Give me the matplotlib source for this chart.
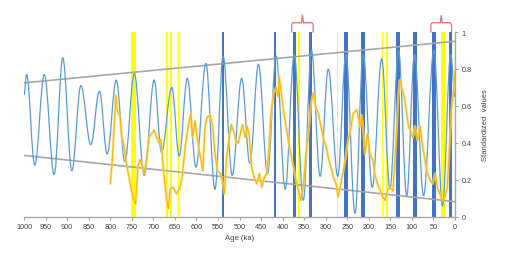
import matplotlib
matplotlib.use("Agg")
import matplotlib.pyplot as plt
from matplotlib.path import Path
from matplotlib.patches import PathPatch
import matplotlib.transforms as mtransforms

plt.rcParams['font.family'] = ['Liberation Sans', 'DejaVu Sans']

# blue curve: extrema (age ka, value)
blue_age = [1000, 994, 975, 953, 930, 910, 889, 868, 845, 825, 807, 786, 766, 744, 721,
            698, 681, 657, 640, 621, 601, 578, 557, 538, 517, 495, 476, 456, 435, 415,
            394, 373, 352, 333, 313, 294, 272, 253, 232, 213, 192, 170, 151, 131, 112,
            94, 73, 49, 29, 10, 0]
blue_val = [0.66, 0.77, 0.28, 0.77, 0.23, 0.86, 0.25, 0.71, 0.39, 0.68, 0.34, 0.74, 0.30, 0.775, 0.225,
            0.74, 0.35, 0.70, 0.33, 0.75, 0.27, 0.83, 0.15, 0.87, 0.225, 0.75, 0.29, 0.825, 0.235, 0.87,
            0.15, 0.88, 0.09, 0.90, 0.22, 0.80, 0.22, 0.88, 0.02, 0.88, 0.16, 0.855, 0.15, 0.90, 0.115,
            0.88, 0.115, 0.90, 0.06, 0.88, 0.65]

# orange proxy record
orange_age = [800, 795, 787, 783, 777, 773, 769, 764, 758, 752, 746, 741, 736, 731, 726, 721,
              715, 710, 704, 698, 692, 687, 682, 677, 673, 669, 665, 661, 654, 646, 638, 633,
              626, 619, 613, 609, 603, 598, 592, 585, 580, 575, 568, 562, 557, 551, 545, 540,
              535, 530, 524, 519, 514, 509, 503, 498, 493, 487, 482, 477, 472, 466, 460, 454,
              448, 443, 437, 432, 427, 421, 415, 411, 408, 404, 398, 393, 387, 381, 375, 370,
              364, 358, 352, 347, 341, 334, 329, 323, 317, 311, 306, 299, 294, 288, 282, 276,
              271, 265, 259, 254, 248, 241, 236, 228, 220, 216, 213, 209, 203, 197, 191, 186,
              180, 174, 168, 162, 157, 151, 144, 137, 131, 128, 124, 120, 116, 112, 108, 104,
              98, 93, 87, 81, 75, 70, 64, 58, 52, 46, 41, 35, 29, 23, 18, 13, 8, 2, 0]
orange_val = [0.18, 0.31, 0.66, 0.57, 0.54, 0.43, 0.40, 0.31, 0.235, 0.16, 0.10, 0.07, 0.27, 0.31, 0.28, 0.235,
              0.32, 0.43, 0.45, 0.47, 0.43, 0.40, 0.42, 0.27, 0.18, 0.09, 0.045, 0.15, 0.16, 0.125, 0.16, 0.215,
              0.38, 0.49, 0.56, 0.43, 0.52, 0.42, 0.34, 0.25, 0.49, 0.54, 0.55, 0.49, 0.34, 0.25, 0.235, 0.20,
              0.125, 0.31, 0.43, 0.50, 0.47, 0.415, 0.40, 0.45, 0.50, 0.43, 0.49, 0.43, 0.27, 0.215, 0.18, 0.235,
              0.16, 0.21, 0.235, 0.36, 0.56, 0.67, 0.70, 0.65, 0.76, 0.685, 0.58, 0.50, 0.415, 0.34, 0.27, 0.215,
              0.145, 0.09, 0.16, 0.31, 0.43, 0.61, 0.67, 0.59, 0.56, 0.49, 0.43, 0.38, 0.32, 0.27, 0.215, 0.18,
              0.11, 0.18, 0.25, 0.32, 0.415, 0.49, 0.56, 0.58, 0.49, 0.55, 0.47, 0.34, 0.45, 0.34, 0.31, 0.235,
              0.18, 0.145, 0.11, 0.09, 0.145, 0.16, 0.14, 0.40, 0.67, 0.74, 0.70, 0.67, 0.62, 0.56, 0.49, 0.47,
              0.43, 0.49, 0.415, 0.49, 0.38, 0.31, 0.235, 0.20, 0.18, 0.235, 0.16, 0.125, 0.09, 0.11, 0.16, 0.38,
              0.58, 0.72, 0.79]

# trend lines (age, value)
upper_trend_age = [1000, 0]
upper_trend_val = [0.725, 0.95]
lower_trend_age = [1000, 0]
lower_trend_val = [0.333, 0.083]

# highlighted intervals (start, end) in ka
yellow_spans = [(751, 739), (670, 665), (661, 660), (658, 656), (643, 641), (364, 360),
                (274, 271), (170, 166), (161, 156), (33, 28), (27, 24)]
blue_spans = [(540, 536), (421, 415), (376, 369), (338, 332), (258, 248), (218, 209),
              (136, 128), (97, 89), (53, 43), (14, 8)]
braces = [(379, 329), (56, 8)]

x_ticks = list(range(1000, -1, -50))
y_ticks = [0, 0.2, 0.4, 0.6, 0.8, 1]
y_ticklabels = ['0', '0.2', '0.4', '0.6', '0.8', '1']


def smooth_path(xs, ys, k=0.3642):
    # cubic segments with flat tangents at each extremum
    verts = [(xs[0], ys[0])]
    codes = [Path.MOVETO]
    for i in range(len(xs) - 1):
        dx = xs[i + 1] - xs[i]
        verts += [(xs[i] + k * dx, ys[i]), (xs[i + 1] - k * dx, ys[i + 1]), (xs[i + 1], ys[i + 1])]
        codes += [Path.CURVE4] * 3
    return Path(verts, codes)


fig = plt.figure(figsize=(5.08, 2.55), dpi=100)
ax = fig.add_axes([24 / 508, 37 / 255, 431 / 508, 185 / 255])

for a, b in yellow_spans:
    ax.axvspan(b, a, color='#FFFF00', lw=0, zorder=1)
for a, b in blue_spans:
    ax.axvspan(b, a, color='#4472C4', lw=0, zorder=1)

ax.plot(upper_trend_age, upper_trend_val, color='#A6A6A6', lw=1.2, zorder=2)
ax.plot(lower_trend_age, lower_trend_val, color='#A6A6A6', lw=1.2, zorder=2)

ax.add_patch(PathPatch(smooth_path(blue_age, blue_val), fill=False, edgecolor='#5B9BD5',
                       lw=0.9, zorder=3))

ax.plot(orange_age, orange_val, color='#FFD966', lw=1.8, alpha=0.8, zorder=4)
ax.plot(orange_age, orange_val, color='#F5B400', lw=0.7, zorder=5)

# curly braces above selected intervals
trans = mtransforms.blended_transform_factory(ax.transData, ax.transAxes)
for a, b in braces:
    m = (a + b) / 2
    w = (a - b) * 0.12
    y0, y1, y2 = 1.0, 1.05, 1.09
    pts = [(a, y0), (a, y1 - 0.012), (a - w * 0.4, y1), (m + w * 0.4, y1), (m, y2),
           (m - w * 0.4, y1), (b + w * 0.4, y1), (b, y1 - 0.012), (b, y0)]
    ax.plot([p[0] for p in pts], [p[1] for p in pts], color='#F26C6C', lw=0.9,
            transform=trans, clip_on=False, zorder=6)

ax.set_xlim(1000, 0)
ax.set_ylim(0, 1)
ax.set_xticks(x_ticks)
ax.set_xticklabels([str(t) for t in x_ticks])
ax.set_yticks(y_ticks)
ax.set_yticklabels(y_ticklabels)
ax.yaxis.tick_right()
ax.yaxis.set_label_position('right')

for s in ['top', 'left']:
    ax.spines[s].set_visible(False)
for s in ['bottom', 'right']:
    ax.spines[s].set_color('#A6A6A6')
    ax.spines[s].set_linewidth(1.0)

ax.tick_params(axis='both', colors='#A6A6A6', labelcolor='#404040', labelsize=5.2,
               length=2.5, width=0.8, pad=2)
ax.set_xlabel('Age (ka)', fontsize=5.5, color='#404040', labelpad=3)
ax.set_ylabel('Standardized  values', fontsize=5.5, color='#404040', labelpad=8)

fig.savefig('out.png', dpi=100)
